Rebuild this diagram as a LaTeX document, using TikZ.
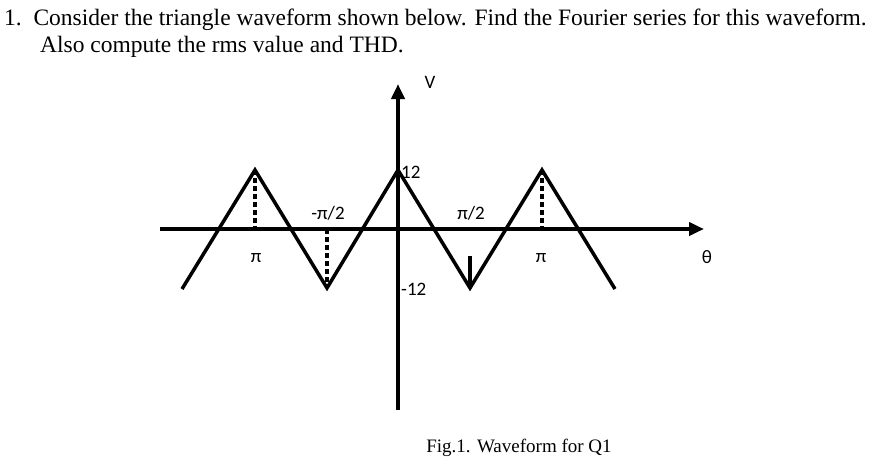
\documentclass[tikz,border=0pt]{standalone}
\usepackage{fontspec}
\setmainfont{Liberation Serif}
\newfontfamily\lab{Carlito}
\usetikzlibrary{arrows.meta}
\begin{document}
\begin{tikzpicture}[x=1pt,y=-1pt,
  wave/.style={line width=3.5pt,line join=miter},
  dashln/.style={line width=3.5pt,dash pattern=on 5pt off 3pt},
  lbl/.style={font=\lab\fontsize{19}{19}\selectfont,inner sep=0pt},
  ttl/.style={font=\fontsize{23.5}{24}\selectfont,inner sep=0pt,anchor=base west}]
\useasboundingbox (0,0) rectangle (892,467);
\node[ttl] (t1) at (4,25) {1.\ \ Consider the triangle waveform shown below. Find the Fourier series for this waveform.};
\node[ttl] (t2) at (40,52) {Also compute the rms value and THD.};
\coordinate (xl) at (160,229); \coordinate (xr) at (704,229);
\coordinate (yb) at (398,410); \coordinate (yt) at (398,84);
\draw[line width=4pt,-{Triangle[length=15pt,width=13pt]}] (xl) -- (xr);
\draw[line width=4pt,-{Triangle[length=15pt,width=13pt]}] (yb) -- (yt);
\coordinate (e1) at (182,289); \coordinate (p1) at (255,170);
\coordinate (v1) at (327,288); \coordinate (p2) at (398,170);
\coordinate (v2) at (470,288); \coordinate (p3) at (542,170);
\coordinate (e2) at (615,289);
\draw[wave] (e1) -- (p1) -- (v1) -- (p2) -- (v2) -- (p3) -- (e2);
\draw[dashln] (p1) -- (255,229);
\draw[dashln] (327,229) -- (v1);
\draw[dashln] (p3) -- (542,229);
\draw[line width=3.5pt] (470,256) -- (v2);
\node[lbl,anchor=west] (n12) at (401,172) {12};
\node[lbl,anchor=west] (m12) at (401,289) {-12};
\node[lbl] (a) at (328,213) {-π/2};
\node[lbl] (b) at (471,213) {π/2};
\node[lbl] (c) at (256,258) {π};
\node[lbl] (d) at (541,258) {π};
\node[lbl] (v) at (430,82) {V};
\node[lbl] (th) at (707,257) {θ};
\node[font=\fontsize{19}{20}\selectfont,inner sep=0pt] (cap) at (519,448) {Fig.1. Waveform for Q1};
\end{tikzpicture}
\end{document}
